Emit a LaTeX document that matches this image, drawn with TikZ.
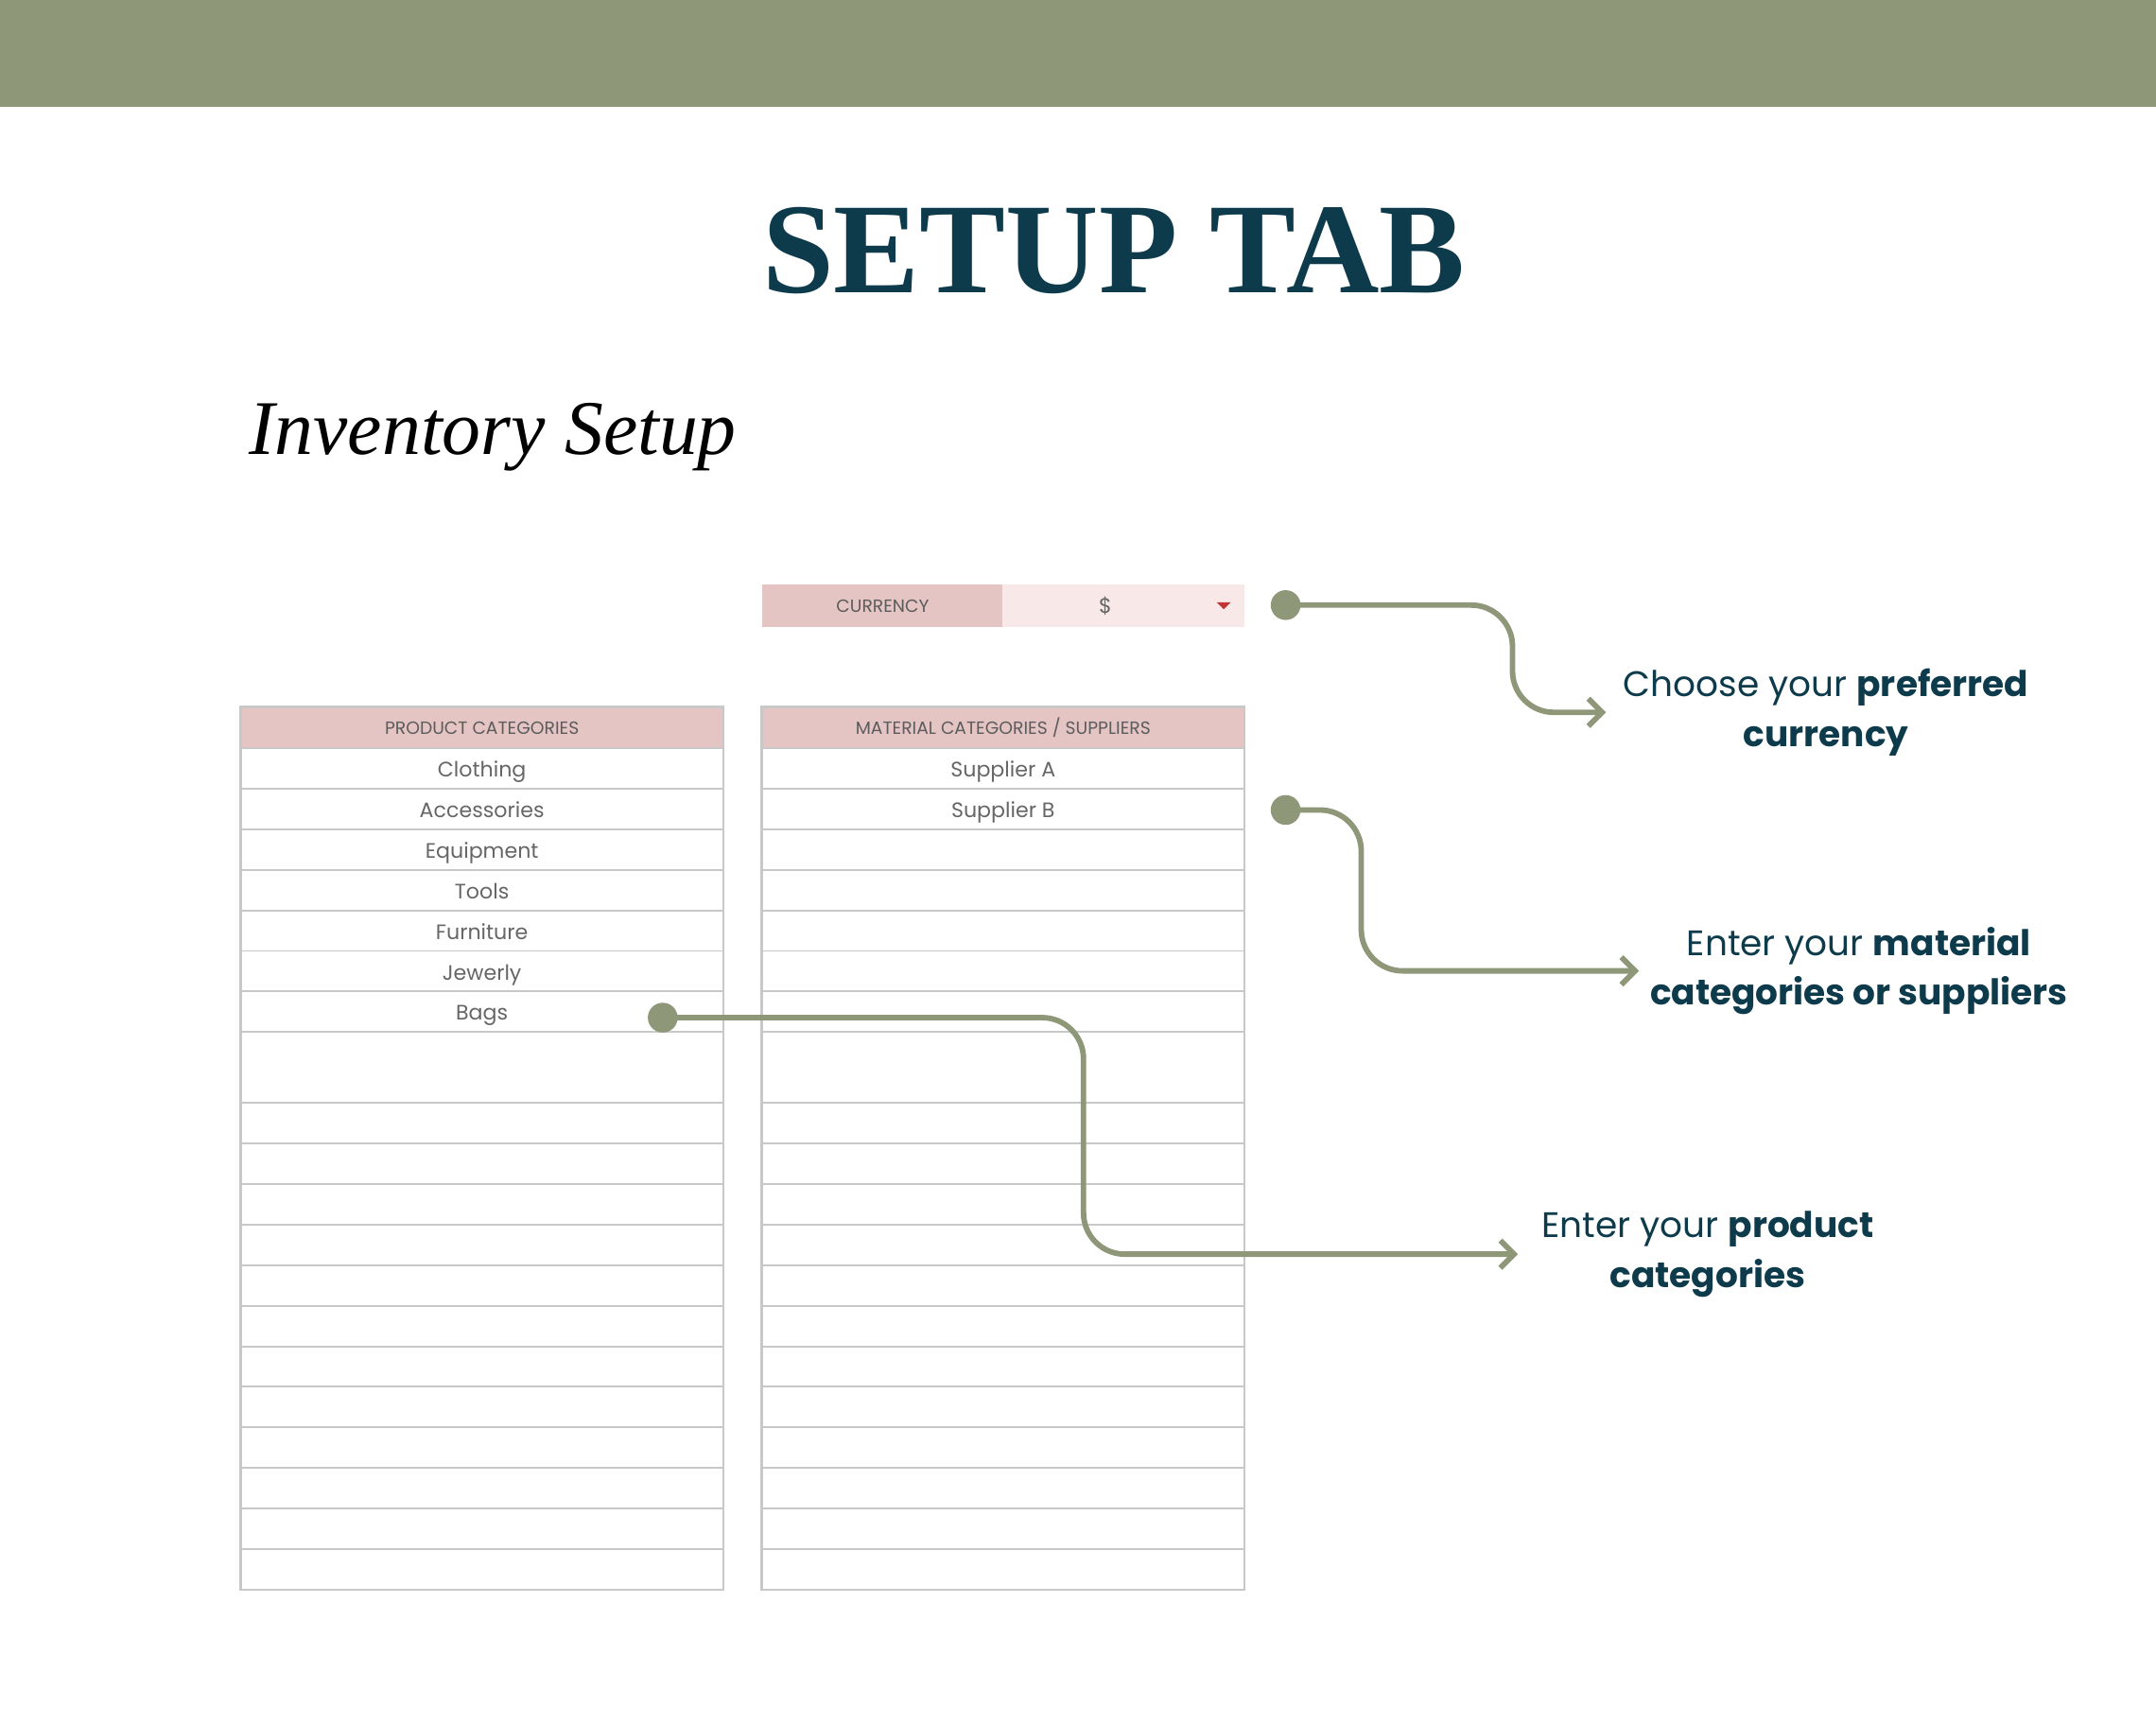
\documentclass[tikz,border=0pt]{standalone}
\usepackage{fontspec}
\setmainfont{Poppins}
\newfontfamily\titlefont{Liberation Serif}
\usetikzlibrary{arrows.meta}
\definecolor{olive}{HTML}{8F9779}
\definecolor{teal}{HTML}{0D3B4C}
\definecolor{pinkd}{HTML}{E5C4C4}
\definecolor{pinkl}{HTML}{F8E8E8}
\definecolor{gridc}{HTML}{C8C8C8}
\definecolor{txt}{HTML}{666666}
\begin{document}
\begin{tikzpicture}[x=0.3mm,y=-0.3mm,
  cell/.style={font=\fontsize{13}{15}\selectfont, text=txt, anchor=base},
  hdr/.style={font=\fontsize{11}{12}\selectfont, text=txt!90!black, anchor=base},
  conn/.style={olive, line width=1.2mm, rounded corners=30*0.3mm, -{Straight Barb[length=3mm,width=6mm]}},
  dotc/.style={circle, fill=olive, inner sep=0pt, minimum size=6.5mm},
  lbl/.style={font=\fontsize{22}{31}\selectfont, text=teal, align=center}]
\useasboundingbox (0,0) rectangle (1568,1254);
\fill[olive] (0,0) rectangle (1568,78);
\node[font=\titlefont\bfseries\fontsize{80}{90}\selectfont, text=teal] (title) at (810,182) {SETUP TAB};
\node[font=\titlefont\itshape\fontsize{48}{56}\selectfont, anchor=west] (inv) at (177,318) {Inventory Setup};
% currency
\fill[pinkd] (554,425) rectangle (729,456);
\fill[pinkl] (729,425) rectangle (905,456);
\node[hdr] (cur) at (642,445) {CURRENCY};
\node[cell] (dol) at (804,446) {\$};
\fill[red!70!black!80] (885,438) -- (895,438) -- (890,443) -- cycle;
% tables
\foreach \x in {175,554}{
  \fill[pinkd] (\x,514) rectangle (\x+351,544);
  \foreach \k in {0,...,7}{ \draw[gridc, line width=0.4mm] (\x,544+29.5*\k) -- (\x+351,544+29.5*\k); }
  \foreach \k in {0,...,12}{ \draw[gridc, line width=0.4mm] (\x,802+29.5*\k) -- (\x+351,802+29.5*\k); }
  \draw[gridc, line width=0.5mm] (\x,514) rectangle (\x+351,1156);
}
\node[hdr] (ph) at (350.5,534) {PRODUCT CATEGORIES};
\node[hdr] (mh) at (729.5,534) {MATERIAL CATEGORIES / SUPPLIERS};
\foreach \t [count=\i from 0] in {Clothing,Accessories,Equipment,Tools,Furniture,Jewerly,Bags}{
  \node[cell] (p\i) at (350.5,565+29.5*\i) {\t};
}
\node[cell] (sa) at (729.5,565) {Supplier A};
\node[cell] (sb) at (729.5,594.5) {Supplier B};
% connectors
\node[dotc] (d1) at (935,440) {};
\node[dotc] (d2) at (935,589) {};
\node[dotc] (d3) at (482,740) {};
\coordinate (e1) at (1168,518);
\coordinate (e2) at (1192,706);
\coordinate (e3) at (1104,912);
\draw[conn] (d1.center) -- (1100,440) -- (1100,518) -- (e1);
\draw[conn] (d2.center) -- (990,589) -- (990,706) -- (e2);
\draw[conn] (d3.center) -- (788,740) -- (788,912) -- (e3);
\node[lbl] (l1) at (1328,518) {Choose your \textbf{preferred}\\\textbf{currency}};
\node[lbl] (l2) at (1352,706) {Enter your \textbf{material}\\\textbf{categories or suppliers}};
\node[lbl] (l3) at (1242,912) {Enter your \textbf{product}\\\textbf{categories}};
\end{tikzpicture}
\end{document}
